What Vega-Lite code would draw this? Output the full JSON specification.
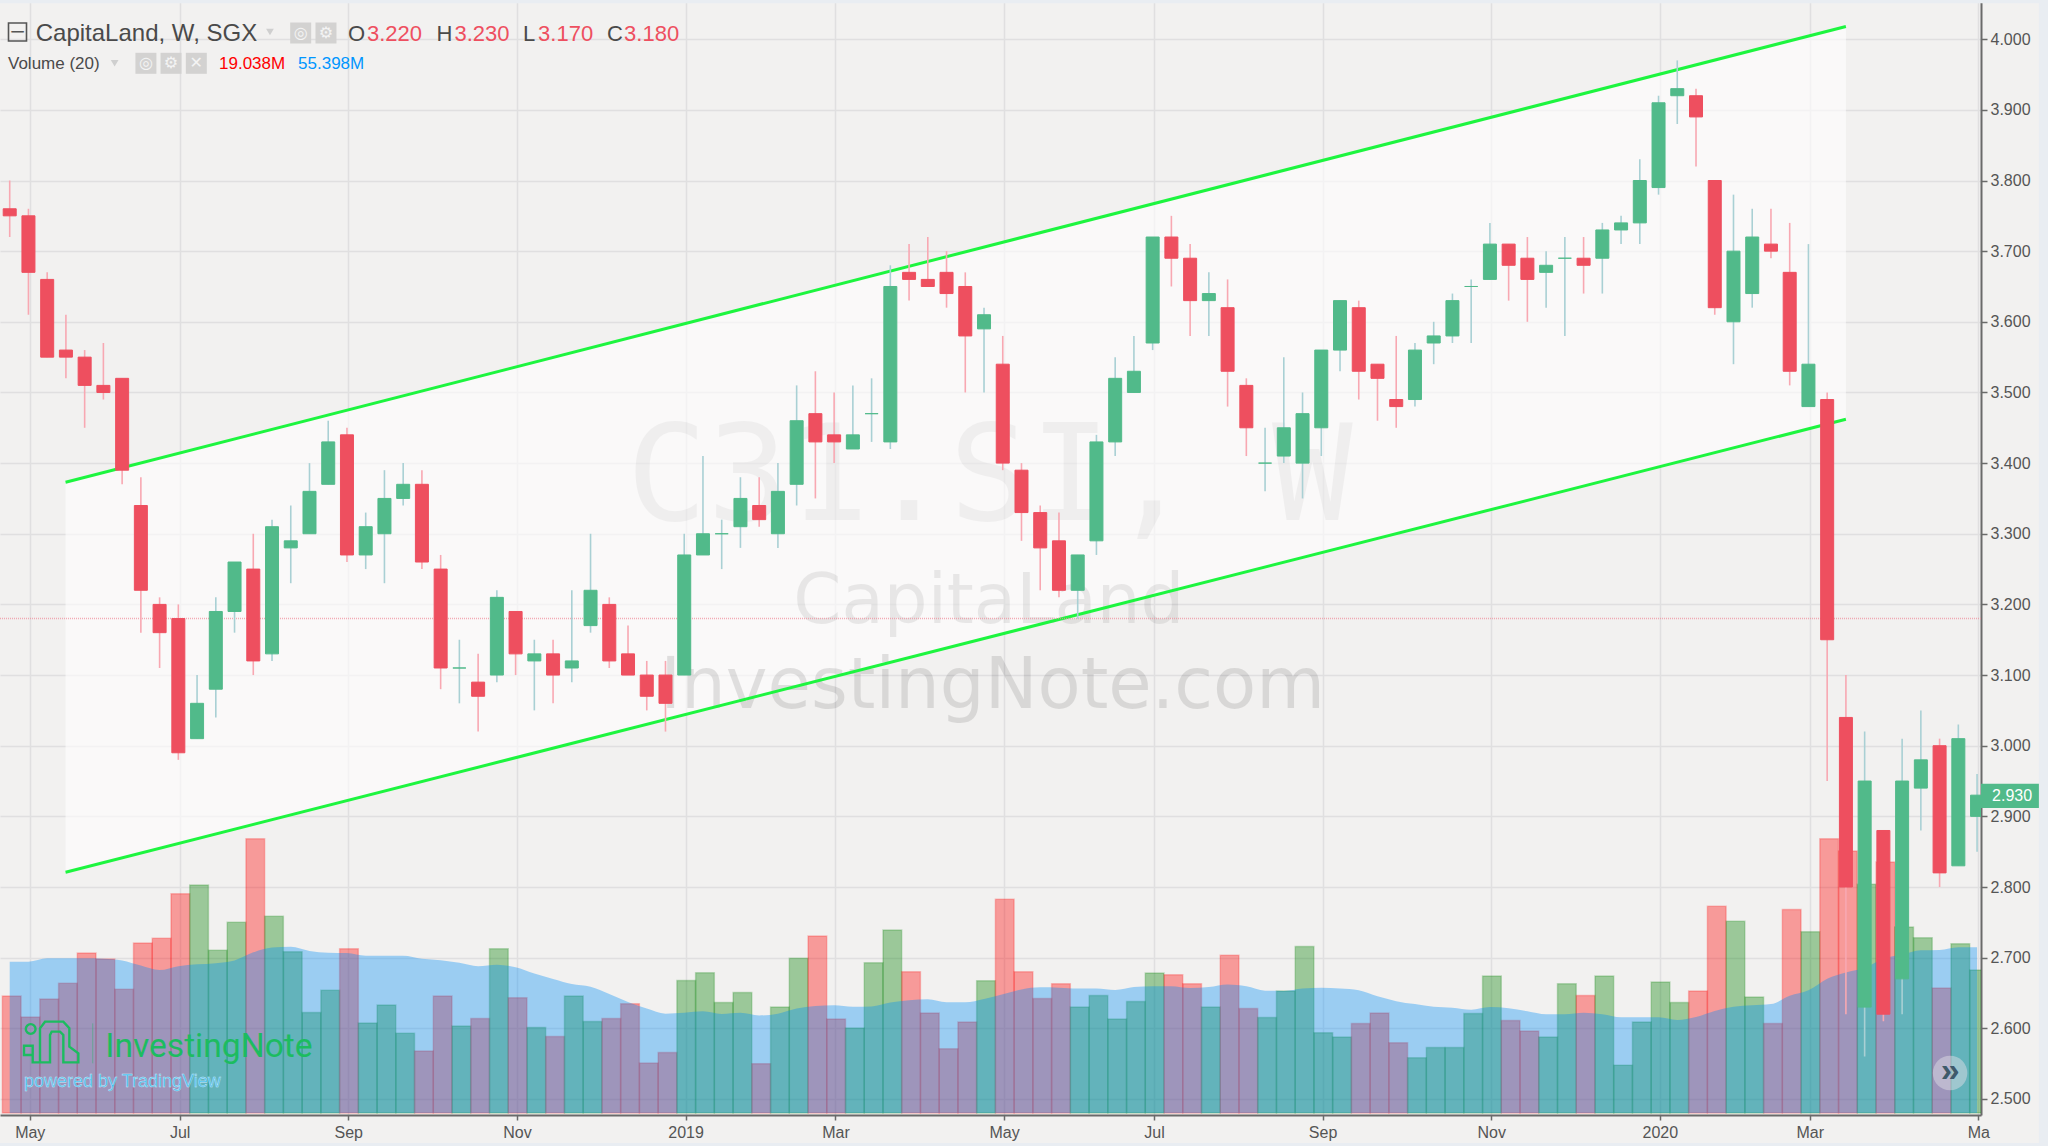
{
  "$schema": "https://vega.github.io/schema/vega-lite/v6.json",
  "width": 1981,
  "height": 1115,
  "autosize": "none",
  "padding": {"left": 0, "top": 0, "right": 67, "bottom": 31},
  "background": "#f2f1f0",
  "config": {"view": {"stroke": null}, "text": {"font": "Liberation Sans"}},
  "datasets": {
    "weeks": [
      {"i":0,"open":3.76,"high":3.80,"low":3.72,"close":3.75,"volume":39.1,"ma":50.6},
      {"i":1,"open":3.75,"high":3.76,"low":3.61,"close":3.67,"volume":32.1,"ma":50.6},
      {"i":2,"open":3.66,"high":3.67,"low":3.55,"close":3.55,"volume":38.1,"ma":51.7},
      {"i":3,"open":3.56,"high":3.61,"low":3.52,"close":3.55,"volume":43.4,"ma":51.7},
      {"i":4,"open":3.55,"high":3.56,"low":3.45,"close":3.51,"volume":53.5,"ma":51.7},
      {"i":5,"open":3.51,"high":3.57,"low":3.49,"close":3.50,"volume":51.5,"ma":51.6},
      {"i":6,"open":3.52,"high":3.52,"low":3.37,"close":3.39,"volume":41.4,"ma":51.0},
      {"i":7,"open":3.34,"high":3.38,"low":3.16,"close":3.22,"volume":56.8,"ma":49.3},
      {"i":8,"open":3.20,"high":3.21,"low":3.11,"close":3.16,"volume":58.4,"ma":47.8},
      {"i":9,"open":3.18,"high":3.20,"low":2.98,"close":2.99,"volume":73.3,"ma":49.1},
      {"i":10,"open":3.01,"high":3.10,"low":3.01,"close":3.06,"volume":76.2,"ma":49.7},
      {"i":11,"open":3.08,"high":3.21,"low":3.04,"close":3.19,"volume":54.4,"ma":50.1},
      {"i":12,"open":3.19,"high":3.26,"low":3.16,"close":3.26,"volume":63.8,"ma":51.0},
      {"i":13,"open":3.25,"high":3.30,"low":3.10,"close":3.12,"volume":91.7,"ma":53.7},
      {"i":14,"open":3.13,"high":3.32,"low":3.12,"close":3.31,"volume":65.8,"ma":55.3},
      {"i":15,"open":3.28,"high":3.34,"low":3.23,"close":3.29,"volume":53.9,"ma":55.6},
      {"i":16,"open":3.30,"high":3.40,"low":3.30,"close":3.36,"volume":33.6,"ma":54.2},
      {"i":17,"open":3.37,"high":3.46,"low":3.37,"close":3.43,"volume":41.0,"ma":53.6},
      {"i":18,"open":3.44,"high":3.45,"low":3.26,"close":3.27,"volume":54.9,"ma":53.5},
      {"i":19,"open":3.27,"high":3.33,"low":3.25,"close":3.31,"volume":30.1,"ma":52.6},
      {"i":20,"open":3.30,"high":3.39,"low":3.23,"close":3.35,"volume":36.1,"ma":52.6},
      {"i":21,"open":3.35,"high":3.40,"low":3.34,"close":3.37,"volume":26.7,"ma":52.6},
      {"i":22,"open":3.37,"high":3.39,"low":3.25,"close":3.26,"volume":20.7,"ma":51.6},
      {"i":23,"open":3.25,"high":3.27,"low":3.08,"close":3.11,"volume":39.1,"ma":51.1},
      {"i":24,"open":3.11,"high":3.15,"low":3.06,"close":3.11,"volume":29.1,"ma":50.2},
      {"i":25,"open":3.09,"high":3.13,"low":3.02,"close":3.07,"volume":31.6,"ma":49.1},
      {"i":26,"open":3.10,"high":3.22,"low":3.09,"close":3.21,"volume":54.9,"ma":49.6},
      {"i":27,"open":3.19,"high":3.19,"low":3.10,"close":3.13,"volume":38.5,"ma":48.7},
      {"i":28,"open":3.12,"high":3.15,"low":3.05,"close":3.13,"volume":28.6,"ma":46.6},
      {"i":29,"open":3.13,"high":3.15,"low":3.06,"close":3.10,"volume":25.6,"ma":44.8},
      {"i":30,"open":3.11,"high":3.22,"low":3.09,"close":3.12,"volume":39.1,"ma":43.1},
      {"i":31,"open":3.17,"high":3.30,"low":3.16,"close":3.22,"volume":30.6,"ma":42.2},
      {"i":32,"open":3.20,"high":3.21,"low":3.11,"close":3.12,"volume":31.6,"ma":39.8},
      {"i":33,"open":3.13,"high":3.17,"low":3.10,"close":3.10,"volume":36.5,"ma":37.1},
      {"i":34,"open":3.10,"high":3.12,"low":3.05,"close":3.07,"volume":16.7,"ma":34.9},
      {"i":35,"open":3.10,"high":3.12,"low":3.02,"close":3.06,"volume":20.2,"ma":33.2},
      {"i":36,"open":3.10,"high":3.30,"low":3.10,"close":3.27,"volume":44.3,"ma":33.5},
      {"i":37,"open":3.27,"high":3.41,"low":3.27,"close":3.30,"volume":46.9,"ma":34.0},
      {"i":38,"open":3.30,"high":3.32,"low":3.25,"close":3.30,"volume":36.9,"ma":33.1},
      {"i":39,"open":3.31,"high":3.38,"low":3.28,"close":3.35,"volume":40.3,"ma":33.5},
      {"i":40,"open":3.34,"high":3.38,"low":3.31,"close":3.32,"volume":16.5,"ma":32.6},
      {"i":41,"open":3.30,"high":3.40,"low":3.28,"close":3.36,"volume":35.4,"ma":33.2},
      {"i":42,"open":3.37,"high":3.51,"low":3.34,"close":3.46,"volume":51.7,"ma":34.9},
      {"i":43,"open":3.47,"high":3.53,"low":3.35,"close":3.43,"volume":59.2,"ma":35.8},
      {"i":44,"open":3.44,"high":3.50,"low":3.40,"close":3.43,"volume":31.4,"ma":36.0},
      {"i":45,"open":3.42,"high":3.51,"low":3.42,"close":3.44,"volume":28.4,"ma":35.5},
      {"i":46,"open":3.47,"high":3.52,"low":3.43,"close":3.47,"volume":50.2,"ma":35.6},
      {"i":47,"open":3.43,"high":3.68,"low":3.42,"close":3.65,"volume":61.2,"ma":36.9},
      {"i":48,"open":3.67,"high":3.71,"low":3.63,"close":3.66,"volume":47.2,"ma":37.7},
      {"i":49,"open":3.66,"high":3.72,"low":3.65,"close":3.65,"volume":33.4,"ma":38.0},
      {"i":50,"open":3.67,"high":3.70,"low":3.62,"close":3.64,"volume":21.5,"ma":37.0},
      {"i":51,"open":3.65,"high":3.67,"low":3.50,"close":3.58,"volume":30.4,"ma":37.0},
      {"i":52,"open":3.59,"high":3.62,"low":3.50,"close":3.61,"volume":44.2,"ma":38.1},
      {"i":53,"open":3.54,"high":3.58,"low":3.39,"close":3.40,"volume":71.5,"ma":39.7},
      {"i":54,"open":3.39,"high":3.40,"low":3.29,"close":3.33,"volume":47.2,"ma":41.3},
      {"i":55,"open":3.33,"high":3.34,"low":3.22,"close":3.28,"volume":38.3,"ma":42.0},
      {"i":56,"open":3.29,"high":3.33,"low":3.21,"close":3.22,"volume":43.2,"ma":41.9},
      {"i":57,"open":3.22,"high":3.27,"low":3.18,"close":3.27,"volume":35.4,"ma":41.6},
      {"i":58,"open":3.29,"high":3.44,"low":3.27,"close":3.43,"volume":39.3,"ma":41.6},
      {"i":59,"open":3.43,"high":3.55,"low":3.41,"close":3.52,"volume":31.4,"ma":41.1},
      {"i":60,"open":3.50,"high":3.58,"low":3.50,"close":3.53,"volume":37.3,"ma":42.1},
      {"i":61,"open":3.57,"high":3.72,"low":3.56,"close":3.72,"volume":46.8,"ma":42.4},
      {"i":62,"open":3.72,"high":3.75,"low":3.65,"close":3.69,"volume":46.2,"ma":42.4},
      {"i":63,"open":3.69,"high":3.71,"low":3.58,"close":3.63,"volume":43.2,"ma":41.8},
      {"i":64,"open":3.63,"high":3.67,"low":3.58,"close":3.64,"volume":35.4,"ma":42.1},
      {"i":65,"open":3.62,"high":3.66,"low":3.48,"close":3.53,"volume":52.7,"ma":43.0},
      {"i":66,"open":3.51,"high":3.52,"low":3.41,"close":3.45,"volume":34.9,"ma":42.4},
      {"i":67,"open":3.40,"high":3.45,"low":3.36,"close":3.40,"volume":31.9,"ma":40.9},
      {"i":68,"open":3.41,"high":3.55,"low":3.40,"close":3.45,"volume":40.8,"ma":40.8},
      {"i":69,"open":3.40,"high":3.50,"low":3.35,"close":3.47,"volume":55.7,"ma":41.6},
      {"i":70,"open":3.45,"high":3.56,"low":3.41,"close":3.56,"volume":26.8,"ma":41.9},
      {"i":71,"open":3.56,"high":3.63,"low":3.53,"close":3.63,"volume":25.4,"ma":41.6},
      {"i":72,"open":3.62,"high":3.63,"low":3.49,"close":3.53,"volume":29.9,"ma":41.0},
      {"i":73,"open":3.54,"high":3.54,"low":3.46,"close":3.52,"volume":33.4,"ma":39.0},
      {"i":74,"open":3.49,"high":3.58,"low":3.45,"close":3.48,"volume":23.5,"ma":37.4},
      {"i":75,"open":3.49,"high":3.57,"low":3.48,"close":3.56,"volume":18.5,"ma":36.4},
      {"i":76,"open":3.57,"high":3.60,"low":3.54,"close":3.58,"volume":21.9,"ma":35.5},
      {"i":77,"open":3.58,"high":3.64,"low":3.57,"close":3.63,"volume":21.9,"ma":35.2},
      {"i":78,"open":3.65,"high":3.66,"low":3.57,"close":3.65,"volume":33.3,"ma":34.5},
      {"i":79,"open":3.66,"high":3.74,"low":3.66,"close":3.71,"volume":45.8,"ma":35.4},
      {"i":80,"open":3.71,"high":3.71,"low":3.63,"close":3.68,"volume":30.9,"ma":35.0},
      {"i":81,"open":3.69,"high":3.72,"low":3.60,"close":3.66,"volume":27.4,"ma":34.0},
      {"i":82,"open":3.67,"high":3.70,"low":3.62,"close":3.68,"volume":25.4,"ma":33.0},
      {"i":83,"open":3.69,"high":3.72,"low":3.58,"close":3.69,"volume":43.2,"ma":33.0},
      {"i":84,"open":3.69,"high":3.72,"low":3.64,"close":3.68,"volume":39.3,"ma":33.5},
      {"i":85,"open":3.69,"high":3.74,"low":3.64,"close":3.73,"volume":45.8,"ma":33.0},
      {"i":86,"open":3.73,"high":3.75,"low":3.71,"close":3.74,"volume":16.0,"ma":32.0},
      {"i":87,"open":3.74,"high":3.83,"low":3.71,"close":3.80,"volume":30.4,"ma":32.0},
      {"i":88,"open":3.79,"high":3.92,"low":3.78,"close":3.91,"volume":43.8,"ma":32.0},
      {"i":89,"open":3.92,"high":3.97,"low":3.88,"close":3.93,"volume":36.9,"ma":31.1},
      {"i":90,"open":3.92,"high":3.93,"low":3.82,"close":3.89,"volume":40.8,"ma":32.1},
      {"i":91,"open":3.80,"high":3.80,"low":3.61,"close":3.62,"volume":69.1,"ma":34.1},
      {"i":92,"open":3.60,"high":3.78,"low":3.54,"close":3.70,"volume":64.1,"ma":35.5},
      {"i":93,"open":3.64,"high":3.76,"low":3.62,"close":3.72,"volume":38.8,"ma":36.0},
      {"i":94,"open":3.71,"high":3.76,"low":3.69,"close":3.70,"volume":29.9,"ma":36.4},
      {"i":95,"open":3.67,"high":3.74,"low":3.51,"close":3.53,"volume":68.0,"ma":39.2},
      {"i":96,"open":3.48,"high":3.71,"low":3.48,"close":3.54,"volume":60.6,"ma":41.0},
      {"i":97,"open":3.49,"high":3.50,"low":2.95,"close":3.15,"volume":91.7,"ma":44.9},
      {"i":98,"open":3.04,"high":3.10,"low":2.62,"close":2.80,"volume":87.6,"ma":47.0},
      {"i":99,"open":2.63,"high":3.02,"low":2.56,"close":2.95,"volume":76.5,"ma":48.6},
      {"i":100,"open":2.88,"high":2.88,"low":2.61,"close":2.62,"volume":83.9,"ma":51.6},
      {"i":101,"open":2.67,"high":3.01,"low":2.62,"close":2.95,"volume":62.2,"ma":53.0},
      {"i":102,"open":2.94,"high":3.05,"low":2.88,"close":2.98,"volume":58.6,"ma":54.4},
      {"i":103,"open":3.00,"high":3.01,"low":2.80,"close":2.82,"volume":41.8,"ma":54.5},
      {"i":104,"open":2.83,"high":3.03,"low":2.83,"close":3.01,"volume":56.6,"ma":55.4},
      {"i":105,"open":2.90,"high":2.96,"low":2.85,"close":2.93,"volume":47.8,"ma":55.4}
    ],
    "channel": [
      {"i":2.98,"upper":3.373,"lower":2.821},
      {"i":98.0,"upper":4.018,"lower":3.462}
    ],
    "logo": [
      {"i":1.617,"p":2.5518,"seq":1},{"i":1.617,"p":2.6000,"seq":2},{"i":1.884,"p":2.6094,"seq":3},
      {"i":2.862,"p":2.6094,"seq":4},{"i":3.183,"p":2.6000,"seq":5},{"i":3.183,"p":2.5740,"seq":6},
      {"i":3.663,"p":2.5646,"seq":7},{"i":3.663,"p":2.5518,"seq":8},{"i":2.862,"p":2.5518,"seq":9},
      {"i":2.862,"p":2.5905,"seq":10},{"i":2.685,"p":2.5953,"seq":11},{"i":2.240,"p":2.5953,"seq":12},
      {"i":2.151,"p":2.5905,"seq":13},{"i":2.151,"p":2.5518,"seq":14},{"i":1.226,"p":2.5518,"seq":15},
      {"i":1.226,"p":2.5754,"seq":16},{"i":0.763,"p":2.5754,"seq":17},{"i":0.763,"p":2.5622,"seq":18},
      {"i":1.226,"p":2.5622,"seq":19}
    ]
  },
  "data": {"name": "weeks"},
  "encoding": {
    "x": {
      "field": "i",
      "type": "quantitative",
      "title": null,
      "scale": {"domain": [-0.518, 105.21], "nice": false, "zero": false, "padding": 0},
      "axis": {
        "orient": "bottom",
        "values": [1.07,9.07,18.07,27.07,36.07,44.07,53.07,61.07,70.07,79.07,88.07,96.07,105.07],
        "labelExpr": "{'1':'May','9':'Jul','18':'Sep','27':'Nov','36':'2019','44':'Mar','53':'May','61':'Jul','70':'Sep','79':'Nov','88':'2020','96':'Mar','105':'Ma'}[floor(datum.value)]",
        "encode": {"labels": {"update": {"align": {"signal": "floor(datum.value) == 105 ? 'right' : 'center'"}}}},
        "labelOverlap": false,
        "labelBound": false,
        "labelFlush": false,
        "labelFont": "Liberation Sans",
        "labelFontSize": 16,
        "labelColor": "#555555",
        "labelPadding": 4,
        "tickColor": "#6a6a6a",
        "tickSize": 5,
        "tickWidth": 1.5,
        "domainColor": "#6a6a6a",
        "domainWidth": 2,
        "grid": true,
        "gridColor": "#e0dfe0",
        "gridWidth": 1.5
      }
    }
  },
  "layer": [
    {
      "mark": {"type": "rule", "opacity": 0},
      "encoding": {
        "y": {
          "field": "close",
          "type": "quantitative",
          "title": null,
          "scale": {"domain": [2.4773, 4.0555], "nice": false, "zero": false},
          "axis": {
            "orient": "right",
            "values": [2.5,2.6,2.7,2.8,2.9,3.0,3.1,3.2,3.3,3.4,3.5,3.6,3.7,3.8,3.9,4.0],
            "format": ".3f",
            "labelFont": "Liberation Sans",
            "labelFontSize": 16,
            "labelColor": "#555555",
            "labelPadding": 3,
            "tickColor": "#6a6a6a",
            "tickSize": 6,
            "tickWidth": 1.5,
            "domainColor": "#6a6a6a",
            "domainWidth": 2,
            "grid": true,
            "gridColor": "#e0dfe0",
            "gridWidth": 1.5
          }
        }
      }
    },
    {
      "layer": [
        {
          "data": {"values": [
            {"i":108.3,"i2":108.8,"p":4.06,"p2":2.43},
            {"i":-0.52,"i2":108.8,"p":2.4377,"p2":2.43},
            {"i":-0.52,"i2":108.8,"p":4.0555,"p2":4.051}
          ]},
          "mark": {"type": "rect", "color": "#e9edf2"},
          "encoding": {
            "x2": {"field": "i2"},
            "y": {
              "field": "p",
              "type": "quantitative",
              "axis": null,
              "scale": {"domain": [2.4773, 4.0555], "nice": false, "zero": false}
            },
            "y2": {"field": "p2"}
          }
        },
        {
          "data": {"name": "channel"},
          "mark": {"type": "area", "color": "#ffffff", "opacity": 0.6},
          "encoding": {
            "y": {"field": "upper", "type": "quantitative", "axis": null},
            "y2": {"field": "lower"}
          }
        },
        {
          "data": {"values": [{"i":52.3,"p":3.3195,"label":"C31.SI, W"}]},
          "mark": {"type": "text", "font": "DejaVu Sans Mono", "fontSize": 134, "color": "#000000", "opacity": 0.04, "align": "center", "baseline": "alphabetic"},
          "encoding": {
            "y": {"field": "p", "type": "quantitative", "axis": null},
            "text": {"field": "label"}
          }
        },
        {
          "data": {"values": [{"i":52.26,"p":3.174,"label":"CapitaLand"}]},
          "mark": {"type": "text", "font": "DejaVu Sans", "fontSize": 69, "color": "#000000", "opacity": 0.07, "align": "center", "baseline": "alphabetic"},
          "encoding": {
            "y": {"field": "p", "type": "quantitative", "axis": null},
            "text": {"field": "label"}
          }
        },
        {
          "data": {"values": [{"i":52.46,"p":3.053,"label":"InvestingNote.com"}]},
          "mark": {"type": "text", "font": "DejaVu Sans", "fontSize": 70.6, "color": "#000000", "opacity": 0.1, "align": "center", "baseline": "alphabetic"},
          "encoding": {
            "y": {"field": "p", "type": "quantitative", "axis": null},
            "text": {"field": "label"}
          }
        }
      ]
    },
    {
      "layer": [
        {
          "mark": {"type": "bar", "size": 18.7, "xOffset": 2, "orient": "vertical", "clip": true, "fillOpacity": 0.36, "strokeOpacity": 0.22, "strokeWidth": 1.5},
          "encoding": {
            "y": {
              "field": "volume",
              "type": "quantitative",
              "title": null,
              "axis": null,
              "scale": {"domain": [-0.67, 372.1], "nice": false, "zero": false}
            },
            "fill": {"condition": {"test": "datum.close < datum.open", "value": "#ff0000"}, "value": "#008000"},
            "stroke": {"condition": {"test": "datum.close < datum.open", "value": "#ff0000"}, "value": "#008000"}
          }
        },
        {
          "mark": {"type": "area", "color": "#008ef8", "opacity": 0.36, "interpolate": "monotone", "clip": true},
          "encoding": {
            "y": {"field": "ma", "type": "quantitative", "axis": null}
          }
        }
      ]
    },
    {
      "layer": [
        {
          "data": {"name": "channel"},
          "mark": {"type": "line", "color": "#1df53f", "strokeWidth": 3},
          "encoding": {
            "y": {
              "field": "upper",
              "type": "quantitative",
              "axis": null,
              "title": null,
              "scale": {"domain": [2.4773, 4.0555], "nice": false, "zero": false}
            }
          }
        },
        {
          "data": {"name": "channel"},
          "mark": {"type": "line", "color": "#1df53f", "strokeWidth": 3},
          "encoding": {
            "y": {"field": "lower", "type": "quantitative", "axis": null}
          }
        },
        {
          "data": {"values": [{"i":-0.518,"i2":105.21,"p":3.18}]},
          "mark": {"type": "rule", "color": "#f08a98", "strokeWidth": 1.5, "strokeDash": [1, 1], "opacity": 0.7},
          "encoding": {
            "x2": {"field": "i2"},
            "y": {"field": "p", "type": "quantitative", "axis": null}
          }
        },
        {
          "mark": {"type": "rule", "strokeWidth": 1.6, "clip": true},
          "encoding": {
            "y": {"field": "low", "type": "quantitative", "axis": null},
            "y2": {"field": "high"},
            "color": {"condition": {"test": "datum.close < datum.open", "value": "#f8a8b2"}, "value": "#a9d0d4"}
          }
        },
        {
          "mark": {"type": "bar", "size": 13, "orient": "vertical", "clip": true, "strokeWidth": 1},
          "encoding": {
            "y": {"field": "open", "type": "quantitative", "axis": null},
            "y2": {"field": "close"},
            "fill": {"condition": {"test": "datum.close < datum.open", "value": "#ee4f5f"}, "value": "#51ba8a"},
            "stroke": {"condition": {"test": "datum.close < datum.open", "value": "#ee4f5f"}, "value": "#51ba8a"}
          }
        },
        {
          "data": {"name": "logo"},
          "mark": {"type": "line", "color": "#1cbc60", "strokeWidth": 2.4},
          "encoding": {
            "y": {"field": "p", "type": "quantitative", "axis": null},
            "order": {"field": "seq"}
          }
        },
        {
          "data": {"values": [{"i":1.119,"p":2.599}]},
          "mark": {"type": "point", "shape": "circle", "color": "#1cbc60", "size": 95, "strokeWidth": 2.4, "filled": false, "opacity": 1},
          "encoding": {"y": {"field": "p", "type": "quantitative", "axis": null}}
        },
        {
          "data": {"values": [{"i":4.43,"p":2.607,"p2":2.5504}]},
          "mark": {"type": "rule", "color": "#1cbc60", "strokeWidth": 1, "opacity": 0.4},
          "encoding": {
            "y": {"field": "p", "type": "quantitative", "axis": null},
            "y2": {"field": "p2"}
          }
        },
        {
          "data": {"values": [{"i":5.1,"p":2.5599,"label":"InvestingNote"}]},
          "mark": {"type": "text", "font": "Roboto", "fontSize": 33.6, "color": "#1cbc60", "align": "left", "baseline": "alphabetic"},
          "encoding": {
            "y": {"field": "p", "type": "quantitative", "axis": null},
            "text": {"field": "label"}
          }
        },
        {
          "data": {"values": [{"i":0.76,"p":2.5173,"label":"powered by TradingView"}]},
          "mark": {"type": "text", "fontSize": 18, "color": "#42bdf0", "stroke": "#cfe9f6", "strokeWidth": 0.4, "align": "left", "baseline": "alphabetic"},
          "encoding": {
            "y": {"field": "p", "type": "quantitative", "axis": null},
            "text": {"field": "label"}
          }
        },
        {
          "data": {"values": [{"i":103.56,"p":2.5367}]},
          "mark": {"type": "point", "shape": "circle", "filled": true, "size": 1190, "color": "#dcdce4", "opacity": 0.5},
          "encoding": {"y": {"field": "p", "type": "quantitative", "axis": null}}
        },
        {
          "data": {"values": [{"i":103.56,"p":2.5367,"label":"»"}]},
          "mark": {"type": "text", "fontSize": 34, "fontWeight": "bold", "color": "#3f5a6b", "align": "center", "baseline": "middle", "dy": -2},
          "encoding": {
            "y": {"field": "p", "type": "quantitative", "axis": null},
            "text": {"field": "label"}
          }
        },
        {
          "data": {"values": [{"i":105.21,"i2":108.3,"p":2.946,"p2":2.912}]},
          "mark": {"type": "rect", "color": "#51ba8a"},
          "encoding": {
            "x2": {"field": "i2"},
            "y": {"field": "p", "type": "quantitative", "axis": null},
            "y2": {"field": "p2"}
          }
        },
        {
          "data": {"values": [{"i":106.87,"p":2.929,"label":"2.930"}]},
          "mark": {"type": "text", "fontSize": 16, "color": "#ffffff", "align": "center", "baseline": "middle"},
          "encoding": {
            "y": {"field": "p", "type": "quantitative", "axis": null},
            "text": {"field": "label"}
          }
        },
        {
          "data": {"values": [
            {"i":1.388,"p":3.9979,"label":"CapitaLand, W, SGX"}
          ]},
          "mark": {"type": "text", "fontSize": 24, "color": "#4a4a4a", "align": "left", "baseline": "alphabetic"},
          "encoding": {
            "y": {"field": "p", "type": "quantitative", "axis": null},
            "text": {"field": "label"}
          }
        },
        {
          "data": {"values": [
            {"i":18.056,"p":3.9979,"label":"O","group":"name"},
            {"i":19.07,"p":3.9979,"label":"3.220","group":"value"},
            {"i":22.785,"p":3.9979,"label":"H","group":"name"},
            {"i":23.74,"p":3.9979,"label":"3.230","group":"value"},
            {"i":27.40,"p":3.9979,"label":"L","group":"name"},
            {"i":28.2,"p":3.9979,"label":"3.170","group":"value"},
            {"i":31.88,"p":3.9979,"label":"C","group":"name"},
            {"i":32.79,"p":3.9979,"label":"3.180","group":"value"}
          ]},
          "mark": {"type": "text", "fontSize": 22, "align": "left", "baseline": "alphabetic"},
          "encoding": {
            "y": {"field": "p", "type": "quantitative", "axis": null},
            "text": {"field": "label"},
            "color": {"condition": {"test": "datum.group == 'value'", "value": "#ee4f5f"}, "value": "#4a4a4a"}
          }
        },
        {
          "data": {"values": [
            {"i":-0.09,"p":3.9574,"label":"Volume (20)","group":"name"},
            {"i":11.17,"p":3.9574,"label":"19.038M","group":"red"},
            {"i":15.39,"p":3.9574,"label":"55.398M","group":"blue"}
          ]},
          "mark": {"type": "text", "fontSize": 17, "align": "left", "baseline": "alphabetic"},
          "encoding": {
            "y": {"field": "p", "type": "quantitative", "axis": null},
            "text": {"field": "label"},
            "color": {
              "field": "group",
              "type": "nominal",
              "legend": null,
              "scale": {"domain": ["name", "red", "blue"], "range": ["#4a4a4a", "#ff0000", "#0096ff"]}
            }
          }
        },
        {
          "data": {"values": [
            {"i":15.53,"p":4.0088},{"i":16.88,"p":4.0088},
            {"i":7.27,"p":3.9659},{"i":8.61,"p":3.9659},{"i":9.96,"p":3.9659}
          ]},
          "mark": {"type": "point", "shape": "square", "filled": true, "size": 441, "color": "#d3d2d1", "opacity": 1},
          "encoding": {"y": {"field": "p", "type": "quantitative", "axis": null}}
        },
        {
          "data": {"values": [
            {"i":15.53,"p":4.0088,"label":"◎"},{"i":16.88,"p":4.0088,"label":"⚙"},
            {"i":7.27,"p":3.9659,"label":"◎"},{"i":8.61,"p":3.9659,"label":"⚙"},{"i":9.96,"p":3.9659,"label":"✕"}
          ]},
          "mark": {"type": "text", "font": "DejaVu Sans", "fontSize": 16, "color": "#f4f4f4", "align": "center", "baseline": "middle"},
          "encoding": {
            "y": {"field": "p", "type": "quantitative", "axis": null},
            "text": {"field": "label"}
          }
        },
        {
          "data": {"values": [{"i":0.416,"p":4.0102}]},
          "mark": {"type": "point", "shape": "square", "filled": false, "size": 324, "color": "#555555", "strokeWidth": 1.6, "opacity": 1},
          "encoding": {"y": {"field": "p", "type": "quantitative", "axis": null}}
        },
        {
          "data": {"values": [{"i":0.416,"p":4.0102,"label":"−"}]},
          "mark": {"type": "text", "font": "DejaVu Sans", "fontSize": 20, "color": "#555555", "align": "center", "baseline": "middle"},
          "encoding": {
            "y": {"field": "p", "type": "quantitative", "axis": null},
            "text": {"field": "label"}
          }
        },
        {
          "data": {"values": [{"i":13.89,"p":4.0102},{"i":5.60,"p":3.966}]},
          "mark": {"type": "point", "shape": "triangle-down", "filled": true, "size": 60, "color": "#cfcfcf", "opacity": 1},
          "encoding": {"y": {"field": "p", "type": "quantitative", "axis": null}}
        }
      ]
    }
  ],
  "resolve": {"scale": {"y": "independent"}}
}
